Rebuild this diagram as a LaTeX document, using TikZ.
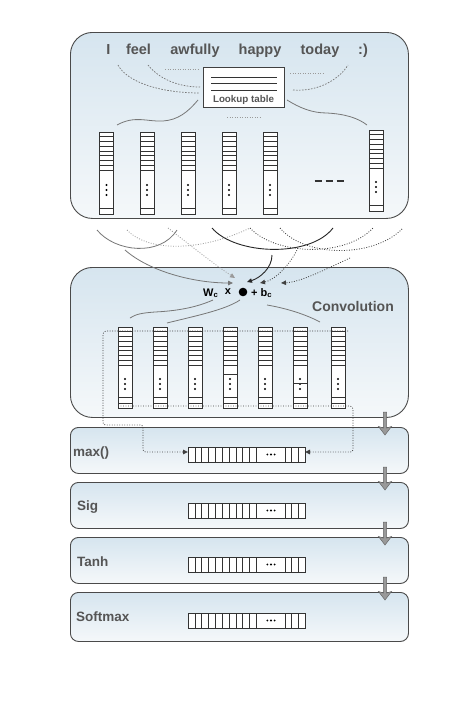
\documentclass[tikz,border=0pt]{standalone}
\usepackage{fontspec}
\setmainfont{Liberation Sans}
\usetikzlibrary{arrows.meta}
\definecolor{boxline}{HTML}{4A4A4A}
\definecolor{boxtop}{HTML}{D6E5EF}
\definecolor{boxbot}{HTML}{F5F8FA}
\definecolor{txt}{HTML}{555555}
\definecolor{vline}{HTML}{333333}
\definecolor{lgray}{HTML}{9A9A9A}
\definecolor{mgray}{HTML}{777777}
\tikzset{
  panel/.style={draw=boxline, line width=0.9pt, top color=boxtop, bottom color=boxbot, anchor=north west, inner sep=0pt},
  word/.style={font=\fontsize{14.5}{16}\selectfont\bfseries, text=txt, anchor=base, inner sep=0pt},
  lbl/.style={font=\fontsize{13.5}{15}\selectfont\bfseries, text=txt, anchor=west, inner sep=0pt},
  vl/.style={draw=vline, line width=0.6pt},
  graysolid/.style={draw=mgray, line width=0.8pt},
  dashgray/.style={draw=mgray, line width=0.7pt, dash pattern=on 1.6pt off 1.4pt},
  dotgray/.style={draw=lgray, line width=0.8pt, dash pattern=on 0.9pt off 1.6pt},
  dotdark/.style={draw=black!75, line width=0.8pt, dash pattern=on 0.9pt off 1.6pt},
  tip/.style={-{Triangle[length=5pt,width=4.5pt]}},
  flowarrow/.style={draw=black!60, fill=black!40, line width=0.5pt, line join=miter},
}
\newcommand\vbar[3]{% x centre, top, bottom
  \draw[vl, fill=white] (#1-7,#2) rectangle (#1+7,#3);
  \foreach \k in {1,...,8}{\draw[vl] (#1-7,#2+\k*4.75) -- (#1+7,#2+\k*4.75);}
  \foreach \d in {-5,0,5}{\fill[black] (#1,#3-24+\d) circle (1.05);}
}
\newcommand\hvec[1]{% top y
  \draw[vl, fill=white] (188,#1) rectangle (305,#1+15);
  \foreach \k in {1,...,10}{\draw[vl] (188+\k*6.83,#1) -- (188+\k*6.83,#1+15);}
  \draw[vl] (285,#1) -- (285,#1+15);
  \draw[vl] (291.7,#1) -- (291.7,#1+15);
  \draw[vl] (298.3,#1) -- (298.3,#1+15);
  \foreach \d in {-3.6,0,3.6}{\fill[black] (271+\d,#1+7.5) circle (1.05);}
}
\newcommand\flowarr[2]{% start y, tip y  (x = 385)
  \draw[flowarrow] (383.3,#1) -- (386.7,#1) -- (386.7,#2-7) -- (391.5,#2-8.5)
    -- (385,#2) -- (378.5,#2-8.5) -- (383.3,#2-7) -- cycle;
}
\begin{document}
\begin{tikzpicture}[x=1pt,y=-1pt]
\useasboundingbox (0,0) rectangle (474,712);
\fill[white] (0,0) rectangle (474,712);

% ---------- panels ----------
\node[panel, rounded corners=22pt, minimum width=338pt, minimum height=186pt] (embed) at (70,32) {};
\node[panel, rounded corners=22pt, minimum width=338pt, minimum height=150pt] (conv) at (70,267) {};
\node[panel, rounded corners=8pt, minimum width=338pt, minimum height=46pt] (maxp) at (70,427) {};
\node[panel, rounded corners=8pt, minimum width=338pt, minimum height=46pt] (sig) at (70,482) {};
\node[panel, rounded corners=8pt, minimum width=338pt, minimum height=46pt] (tanh) at (70,537) {};
\node[panel, rounded corners=8pt, minimum width=338pt, minimum height=49pt] (soft) at (70,592) {};

% ---------- sentence ----------
\node[word] (w1) at (108.5,54) {I};
\node[word] (w2) at (138.5,54) {feel};
\node[word] (w3) at (195,54) {awfully};
\node[word] (w4) at (260,54) {happy};
\node[word] (w5) at (320,54) {today};
\node[word] (w6) at (363,54) {:)};

% ---------- lookup table ----------
\node[draw=black!75, line width=0.8pt, fill=white, minimum width=81pt, minimum height=40pt, inner sep=0pt, anchor=north west] (lut) at (203,67) {};
\foreach \yy in {77,83.5,90}{\draw[black!80, line width=0.9pt] (211,\yy) -- (277,\yy);}
\node[font=\fontsize{9.8}{11}\selectfont\bfseries, text=txt, inner sep=0pt] (luttxt) at (243.5,99.5) {Lookup table};

% dashed links words -> table
\draw[dashgray] (118,65) .. controls (127,82) and (160,93) .. (200,93);
\draw[dashgray] (148,65) .. controls (160,80) and (180,87) .. (200,87);
\draw[dotgray] (165,69) -- (198,69);
\draw[dotgray] (290,73) -- (323,73);
\draw[dashgray] (293,90) .. controls (320,92) and (340,78) .. (348,65);
\draw[dotgray] (227,117) -- (260,117);
% solid links table -> vectors
\draw[graysolid] (198,100) .. controls (188,112) and (178,120) .. (163,121)
  .. controls (148,122) and (135,115) .. (117,125);
\draw[graysolid] (287,100) .. controls (300,108) and (312,113) .. (327,113)
  .. controls (345,114) and (358,118) .. (367,125);

% ---------- embedding vectors ----------
\foreach \xx in {106.5,147,188,229,270}{\vbar{\xx}{132}{214}}
\vbar{376}{130}{211}
\foreach \xx in {106.5,147,188,229,270}{\draw[vl] (\xx-7,208) -- (\xx+7,208);}
\draw[vl] (369,205) -- (383,205);
\foreach \xx in {318,329,340}{\draw[black!80, line width=1.6pt] (\xx-3.5,181) -- (\xx+3.5,181);}

% ---------- links between panels ----------
\coordinate (tA) at (233,283);
\coordinate (tB) at (235,278);
\coordinate (tC) at (247,282);
\coordinate (tD) at (260,283);
\coordinate (tE) at (281,283);
\draw[graysolid] (97,230) .. controls (115,252) and (160,257) .. (177,230);
\draw[dotgray] (127,230) .. controls (148,252) and (200,252) .. (250,228);
\draw[graysolid, tip] (125,250) .. controls (150,272) and (195,283) .. (tA);
\draw[dotgray, tip] (168,228) .. controls (190,245) and (215,265) .. (tB);
\draw[black!85, line width=0.9pt] (212,228) .. controls (235,255) and (310,258) .. (333,228);
\draw[black!85, line width=0.9pt, tip] (272,255) .. controls (272,268) and (260,278) .. (tC);
\draw[dotdark] (250,228) .. controls (275,255) and (345,258) .. (373,228);
\draw[dotdark] (280,228) .. controls (305,258) and (375,258) .. (403,228);
\draw[dotdark, tip] (298,248) .. controls (290,265) and (275,280) .. (tD);
\draw[dotdark, tip] (350,258) .. controls (320,272) and (300,282) .. (tE);

% ---------- formula ----------
\node[font=\fontsize{11}{12}\selectfont\bfseries, inner sep=0pt, anchor=base west] (wc) at (203,296) {W\textsubscript{c}};
\node[font=\fontsize{11}{12}\selectfont\bfseries, inner sep=0pt] (times) at (228,292) {x};
\fill[black] (243,292) circle (4.3);
\node[font=\fontsize{11}{12}\selectfont\bfseries, inner sep=0pt, anchor=base west] (bc) at (251,296) {+ b\textsubscript{c}};
\node[font=\fontsize{14}{16}\selectfont\bfseries, text=txt, inner sep=0pt, anchor=east] (convtxt) at (394,306) {Convolution};

% links formula -> conv vectors
\draw[graysolid] (213,300) .. controls (195,308) and (175,311) .. (155,312) .. controls (142,313) and (136,314) .. (130,318);
\draw[graysolid] (240,300) .. controls (225,310) and (195,316) .. (167,323);
\draw[graysolid] (267,305) .. controls (285,308) and (305,314) .. (320,322);

% ---------- conv vectors ----------
\foreach \xx in {125,160,195,230,265,300,338}{\vbar{\xx}{327}{408}
  \draw[vl] (\xx-7,397) -- (\xx+7,397); \draw[vl] (\xx-7,403) -- (\xx+7,403);}
\draw[vl] (223,374) -- (237,374);
\draw[vl] (293,383) -- (307,383);

% dotted max-pool frame
\draw[dotdark] (348,331) -- (108,331) .. controls (104,331) and (103,332) .. (103,336)
  -- (103,421) .. controls (103,425) and (104,425) .. (108,425) -- (140,425)
  .. controls (143,425) and (143,426) .. (143,429) -- (143,448)
  .. controls (143,452) and (144,452) .. (148,452) -- (186,452);
\draw[dotdark] (118,406) -- (348,406) .. controls (352,406) and (353,407) .. (353,411)
  -- (353,448) .. controls (353,452) and (352,452) .. (348,452) -- (307,452);
\fill[black!75] (188,452) -- (183,449.6) -- (183,454.4) -- cycle;
\fill[black!75] (305,452) -- (310,449.6) -- (310,454.4) -- cycle;

% ---------- layer vectors and labels ----------
\hvec{447}
\hvec{503}
\hvec{557}
\hvec{613}
\node[lbl] (lmax) at (73,453) {max()};
\node[lbl] (lsig) at (77,507.5) {Sig};
\node[lbl] (ltanh) at (77,562) {Tanh};
\node[lbl] (lsoft) at (76,617) {Softmax};

% ---------- flow arrows ----------
\flowarr{412}{435}
\flowarr{467}{490}
\flowarr{522}{545}
\flowarr{577}{600}
\end{tikzpicture}
\end{document}
